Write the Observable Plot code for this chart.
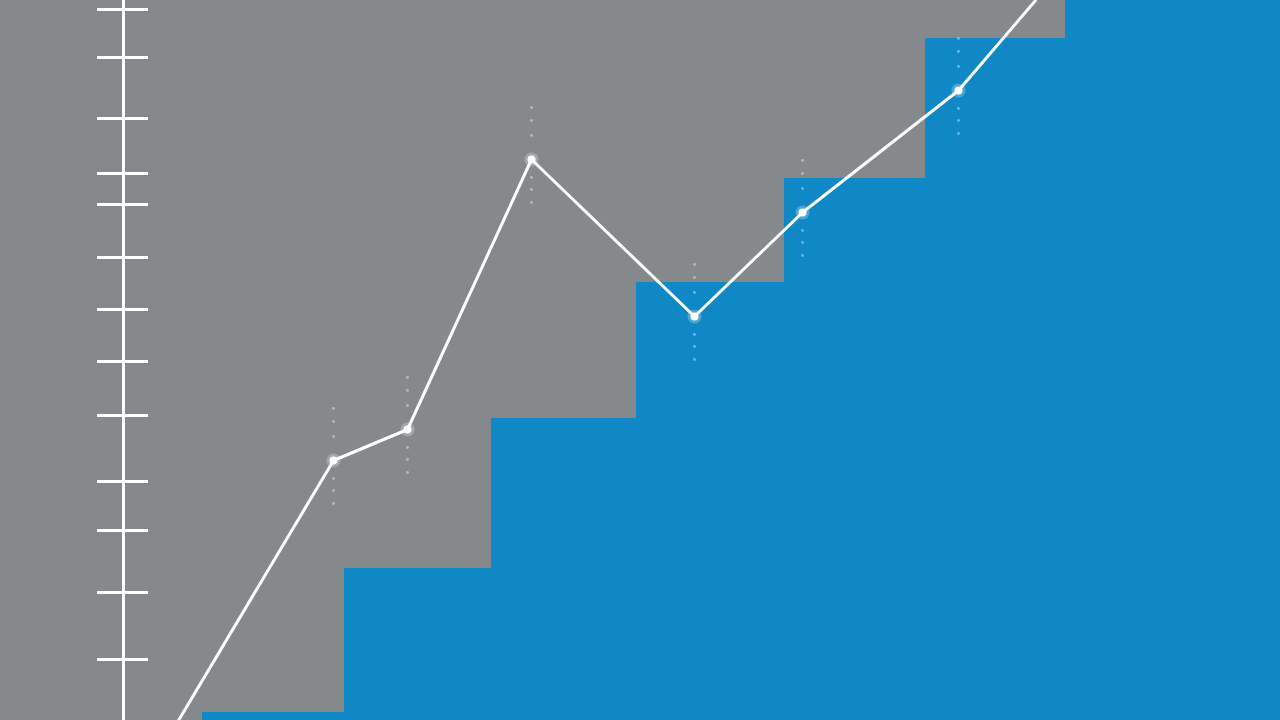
<!DOCTYPE html>
<html>
<head>
<meta charset="utf-8">
<script src="https://cdn.jsdelivr.net/npm/d3@7"></script>
<script src="https://cdn.jsdelivr.net/npm/@observablehq/plot@0.6"></script>
<style>
  html, body { margin: 0; padding: 0; background: #86898b; overflow: hidden; }
  #chart svg { display: block; }
</style>
</head>
<body>
<div id="chart"></div>
<script>
// Staircase (blue steps): start position and level of each step
const stepStarts = [202, 344, 491, 636, 784, 925, 1065];
const stepEnds   = [344, 491, 636, 784, 925, 1065, 1280];
const stepLevels = [8, 152, 302, 438, 542, 682, 720];

// White line series
const lineX = [178, 333, 407, 531, 694, 802, 958, 1035];
const lineY = [0, 260, 291, 561, 404, 508, 630, 720];

// Marked points (with dots)
const pointX = [333, 407, 531, 694, 802, 958];
const pointY = [260, 291, 561, 404, 508, 630];

// Faint dotted guides around each point (offsets)
const guideOffsets = [52, 39, 24, -18, -30, -43];

// Vertical scale ticks (levels)
const tickLevels = [711, 663, 602, 547, 516, 463, 411, 359, 305, 239, 190, 128, 61];
const axisPos = 123;

const steps = stepStarts.map((s, i) => ({x1: s, x2: stepEnds[i], level: stepLevels[i]}));
const line = lineX.map((x, i) => ({x, y: lineY[i]}));
const points = pointX.map((x, i) => ({x, y: pointY[i]}));
const ticks = tickLevels.map(y => ({y}));
const faint = [];
points.forEach(p => guideOffsets.forEach(d => faint.push({x: p.x, y: p.y + d})));

const chart = Plot.plot({
  width: 1280,
  height: 720,
  margin: 0,
  x: {domain: [0, 1280], axis: null},
  y: {domain: [0, 720], axis: null},
  style: {background: "#86898b"},
  marks: [
    Plot.rectY(steps, {x1: "x1", x2: "x2", y1: 0, y2: "level", fill: "#0f88c5", inset: 0}),
    Plot.ruleX([axisPos], {stroke: "white", strokeWidth: 3}),
    Plot.ruleY(ticks, {y: "y", x1: axisPos - 26, x2: axisPos + 25, stroke: "white", strokeWidth: 3}),
    Plot.dot(faint, {x: "x", y: "y", r: 1.4, fill: "white", fillOpacity: 0.4}),
    Plot.line(line, {x: "x", y: "y", stroke: "white", strokeWidth: 3, clip: true}),
    Plot.dot(points, {x: "x", y: "y", r: 7, fill: "white", fillOpacity: 0.25}),
    Plot.dot(points, {x: "x", y: "y", r: 4, fill: "white"})
  ]
});
document.getElementById("chart").append(chart);
</script>
</body>
</html>
